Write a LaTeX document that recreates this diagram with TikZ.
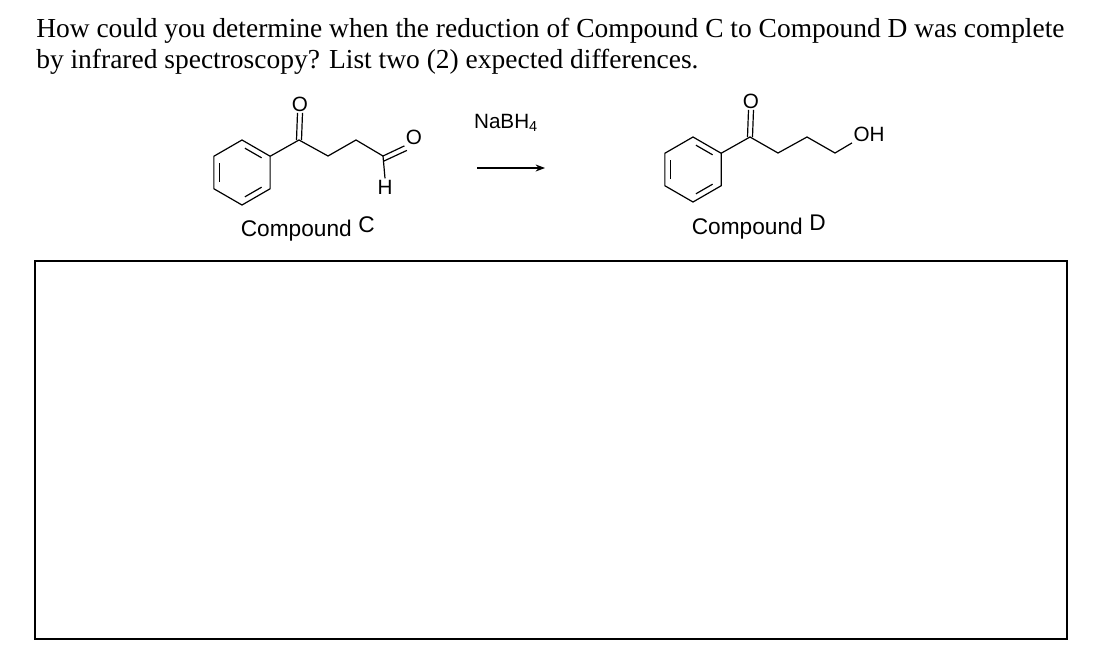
\documentclass[tikz,border=0pt]{standalone}
\usepackage{fontspec}
\setmainfont{Liberation Serif}
\setsansfont{Liberation Sans}
\usetikzlibrary{arrows.meta,calc}
\tikzset{>=Stealth}
\tikzset{bond/.style={line width=0.9pt},
  atom/.style={font=\sffamily\fontsize{15.5}{16}\selectfont, inner sep=1pt},
  cname/.style={font=\sffamily\fontsize{17}{18}\selectfont, inner sep=0pt}}
\newcommand{\ring}[2]{% center, name prefix
  \foreach \a [count=\i] in {90,30,-30,-90,-150,150}
    \coordinate (#2\i) at ($(#1)+({32.5*cos(\a)},{-32.5*sin(\a)})$);
  \foreach \i in {1,...,6}
    \coordinate (#2p\i) at ($(#1)!0.8!(#2\i)$);
  \draw[bond] (#21)--(#22)--(#23)--(#24)--(#25)--(#26)--cycle;
  \foreach \i/\j in {1/2,3/4,5/6}
    \draw[bond] ($(#2p\i)!0.13!(#2p\j)$)--($(#2p\j)!0.13!(#2p\i)$);}
\begin{document}
\begin{tikzpicture}[x=0.75pt,y=-0.75pt]
\useasboundingbox (0,0) rectangle (1106,664);
% question
\node[anchor=base west, inner sep=0, font=\fontsize{20.6}{25}\selectfont] (q1) at (36,37) {How could you determine when the reduction of Compound C to Compound D was complete};
\node[anchor=base west, inner sep=0, font=\fontsize{20.6}{25}\selectfont] (q2) at (36,68) {by infrared spectroscopy? List two (2) expected differences.};
% compound C
\coordinate (cc) at (242,172.5);
\ring{cc}{a}
\coordinate (c1) at (299,140);
\coordinate (c2) at (328,156);
\coordinate (c3) at (356,140);
\coordinate (c4) at (383,156);
\node[atom] (o1) at (300,104) {O};
\node[atom] (o2) at (414,137) {O};
\node[atom] (h1) at (385,187) {H};
\draw[bond] (a2)--(c1)--(c2)--(c3)--(c4);
\draw[bond] ($(c1)+(-2.5,0)$)--($(o1.south)+(-2.5,0)$) ($(c1)+(2.5,0)$)--($(o1.south)+(2.5,0)$);
\draw[bond] (c4)--(o2.south west);
\draw[bond] ($(c4)+(1,5)$)--($(o2.south west)+(2.5,4.5)$);
\draw[bond] (c4)--(h1.north);
\node[cname, anchor=base east] (nc) at (352,236) {Compound};
\node[cname, anchor=base west] (lc) at (358,232) {C};
% arrow
\coordinate (r1) at (477,168);
\coordinate (r2) at (545,168);
\draw[bond,->] (r1)--(r2);
\node[atom] (re) at (506,123) {NaBH\textsubscript{4}};
% compound D
\coordinate (dc) at (693,169.5);
\ring{dc}{b}
\coordinate (d1) at (750,137);
\coordinate (d2) at (778,153);
\coordinate (d3) at (807,137);
\coordinate (d4) at (835,153);
\node[atom] (o3) at (751,101) {O};
\node[atom, anchor=west] (oh) at (852,134) {OH};
\draw[bond] (b2)--(d1)--(d2)--(d3)--(d4)--(oh.south west);
\draw[bond] ($(d1)+(-2.5,0)$)--($(o3.south)+(-2.5,0)$) ($(d1)+(2.5,0)$)--($(o3.south)+(2.5,0)$);
\node[cname, anchor=base east] (nd) at (803,234) {Compound};
\node[cname, anchor=base west] (ld) at (809,230) {D};
% answer box
\draw[line width=1pt] (35,261) rectangle (1067,639);
\end{tikzpicture}
\end{document}
